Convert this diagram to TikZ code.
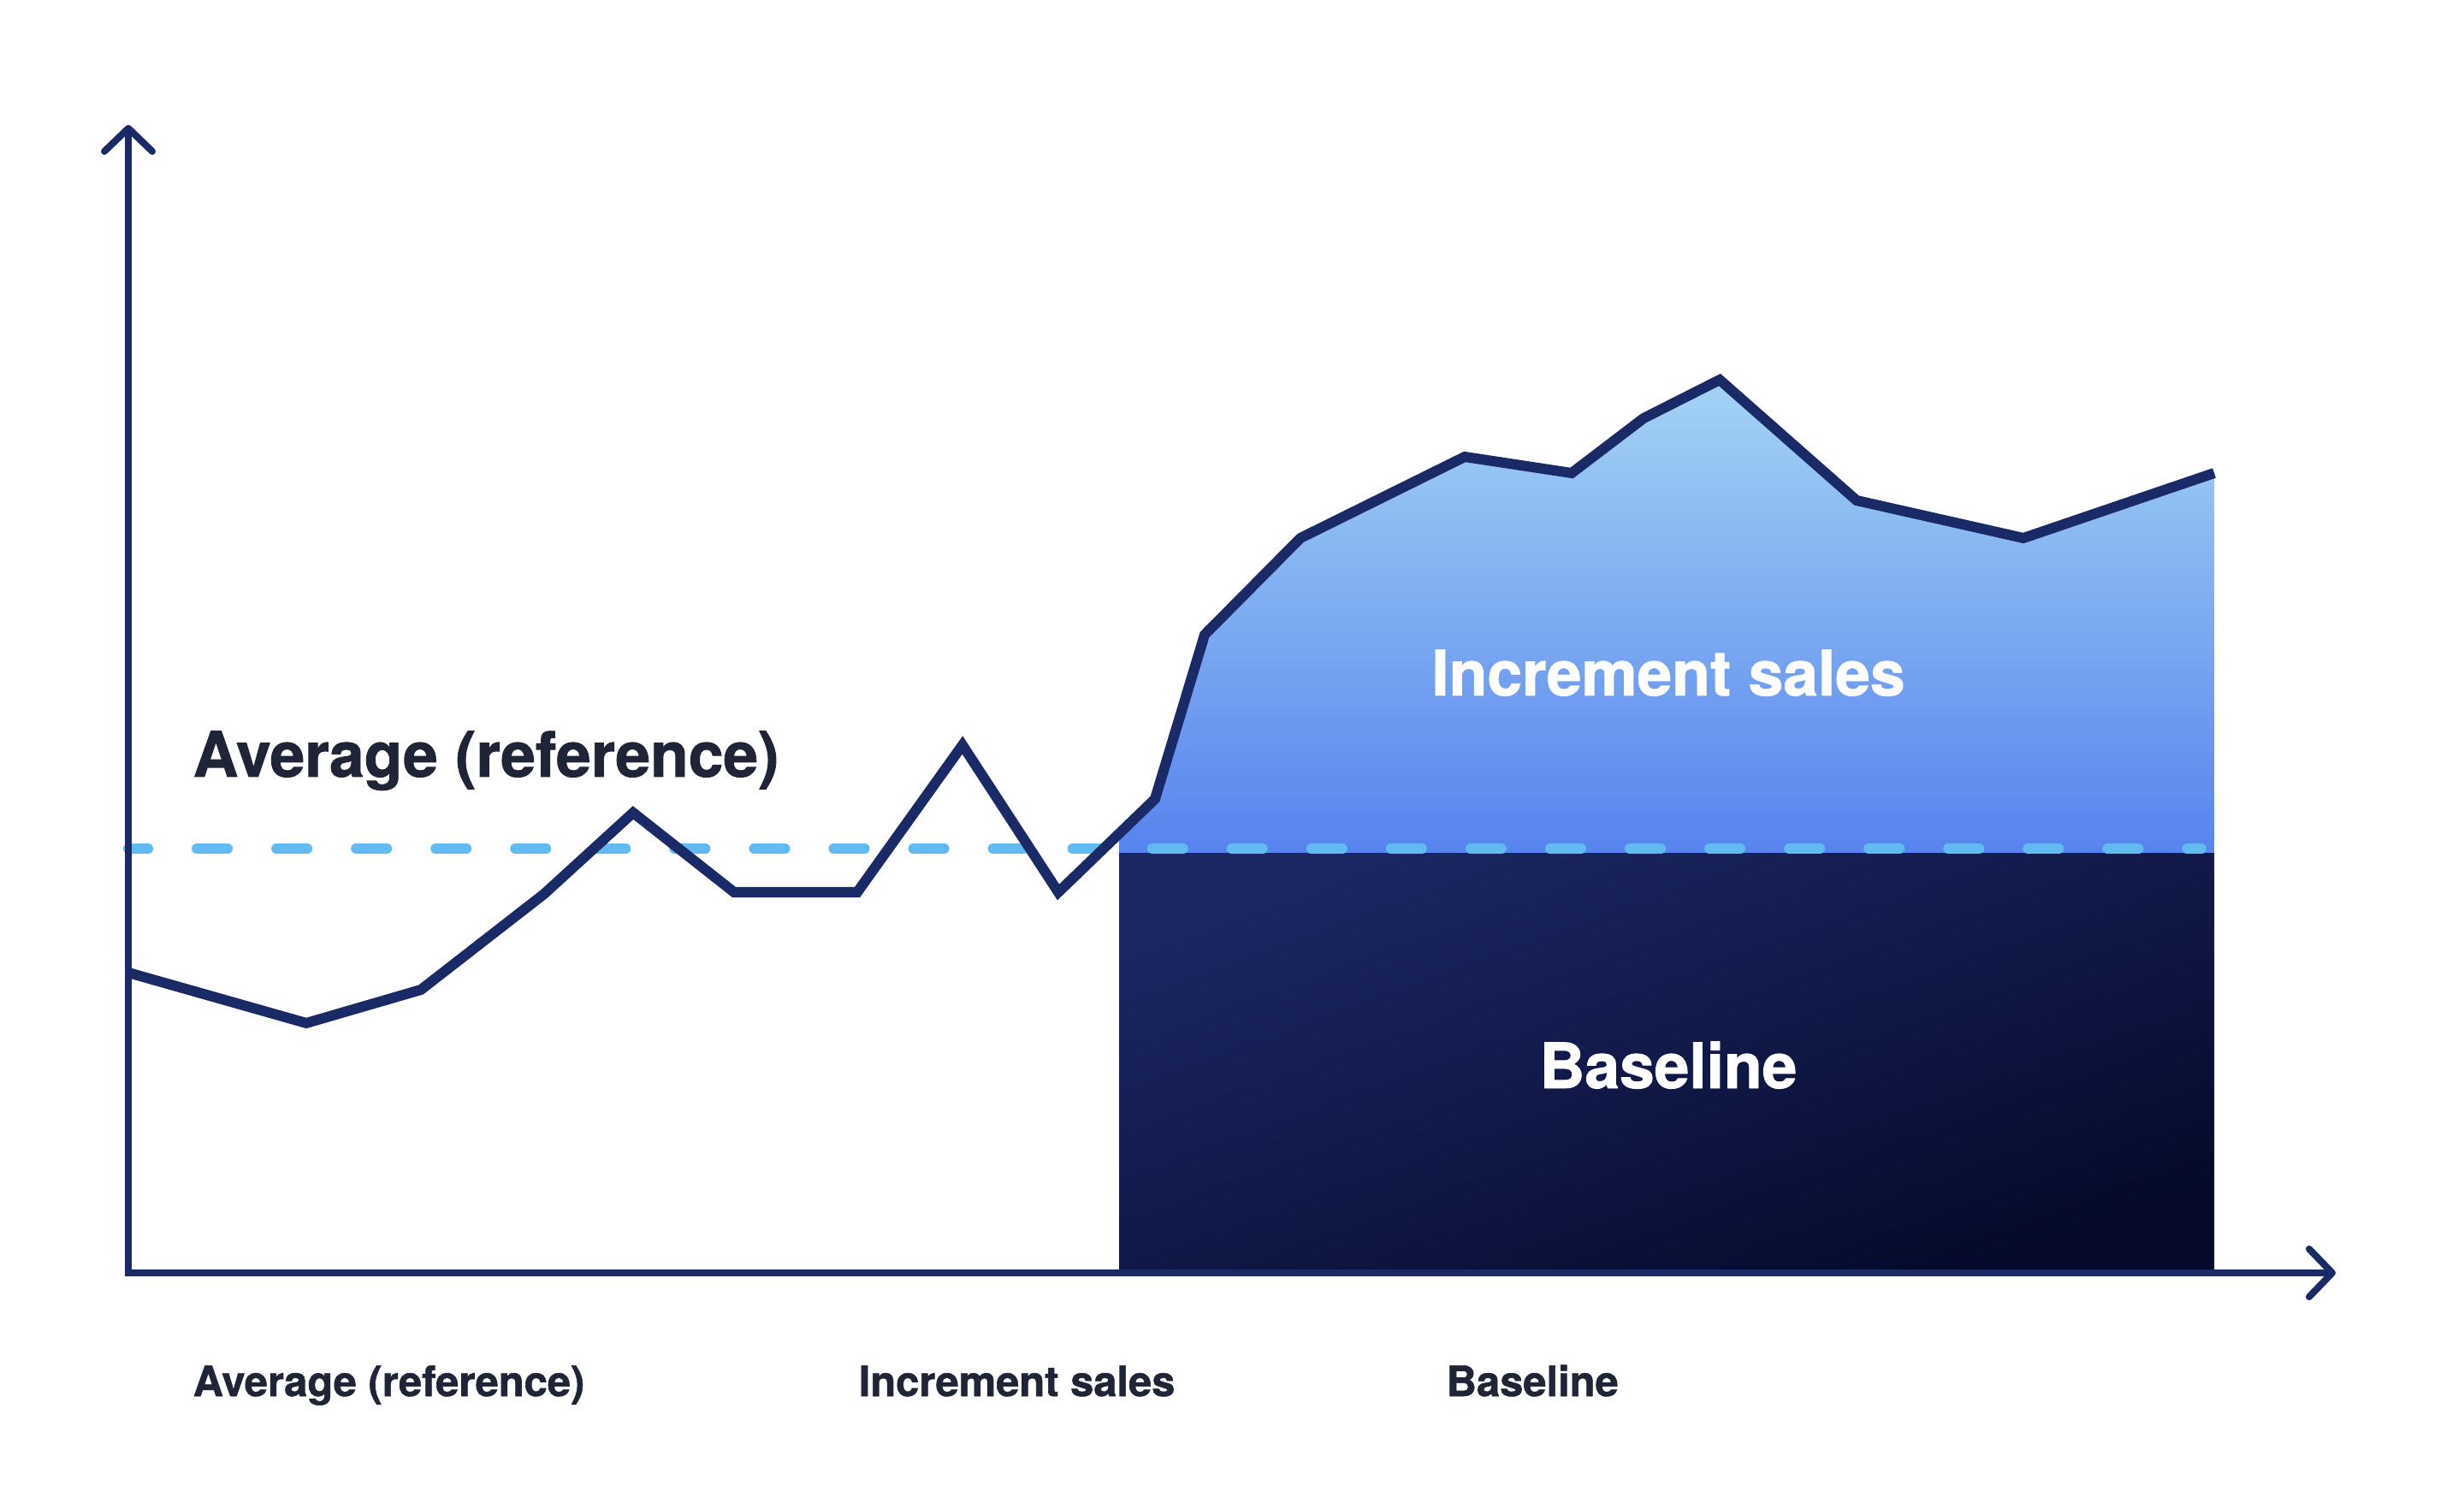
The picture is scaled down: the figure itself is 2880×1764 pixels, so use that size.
\documentclass[tikz,border=0pt]{standalone}
\usepackage{fontspec}
\setmainfont{TeX Gyre Heros}[BoldFeatures={FakeBold=1.2}]
\usetikzlibrary{arrows.meta,positioning}
\definecolor{axiscol}{HTML}{1A2A66}
\definecolor{textcol}{HTML}{1F2536}
\definecolor{dashcol}{HTML}{62BBF0}
\definecolor{incA}{HTML}{A3D3F4}
\definecolor{incB}{HTML}{5783EE}
\definecolor{baseA}{HTML}{1B2763}
\definecolor{baseB}{HTML}{050A2B}
\tikzset{axtip/.tip={Straight Barb[length=0.27cm,width=0.56cm,round]}}

\begin{document}
\begin{tikzpicture}[x=0.01cm, y=-0.01cm, axis/.style={draw=axiscol, line width=0.08cm, axtip-axtip}, dataline/.style={draw=axiscol, line width=0.12cm, line join=miter}, refline/.style={draw=dashcol, line width=0.12cm, line cap=round, dash pattern=on 0.36cm off 0.57cm, dash phase=0.13cm}, biglbl/.style={inner sep=0pt, text=textcol, font=\bfseries\fontsize{20.8pt}{24pt}\selectfont}, smalllbl/.style={inner sep=0pt, text=textcol, font=\bfseries\fontsize{13.9pt}{16pt}\selectfont}]
	\useasboundingbox (0,0) rectangle (2880,1764);
	\coordinate (O) at (150,1488);
	\coordinate (ytop) at (150,146);
	\coordinate (xend) at (2730,1488);
	\foreach \x/\y [count=\i] in {150/1137, 358/1196, 492/1157, 636/1045, 740/950, 858/1043, 1002/1043, 1125/871, 1237/1043, 1350/934, 1408/742, 1520/629, 1712/534, 1837/553, 1921/489, 2010/444, 2170/585, 2365/629, 2588/553}
		\coordinate (p\i) at (\x,\y);
	\coordinate (q0) at (1308,974);
	\coordinate (r0) at (1308,998);
	\coordinate (r1) at (2588,998);
	\coordinate (r2) at (2588,1488);
	% increment area and baseline block
	\shade[top color=incA, bottom color=incB] (r0) -- (q0) \foreach \i in {10,...,19} {-- (p\i)} -- (r1) -- cycle;
	\shade[top color=baseA, bottom color=baseB, shading angle=20] (r0) rectangle (r2);
	\draw[refline] (150,992) -- (2573,992);
	\draw[dataline] (p1) \foreach \i in {2,...,19} {-- (p\i)};
	\draw[axis] (ytop) -- (O) -- (xend);
	\node[biglbl, anchor=base west] (avg) at (225,908) {Average (reference)};
	\node[biglbl, text=white, anchor=base] (inc) at (1950,813) {Increment sales};
	\node[biglbl, text=white, anchor=base] (bline) at (1950,1272) {Baseline};
	\node[smalllbl, anchor=base west] (lavg) at (225,1632) {Average (reference)};
	\node[smalllbl, anchor=base west] (linc) at (1003,1632) {Increment sales};
	\node[smalllbl, anchor=base west] (lbline) at (1690,1632) {Baseline};
\end{tikzpicture}
\end{document}
